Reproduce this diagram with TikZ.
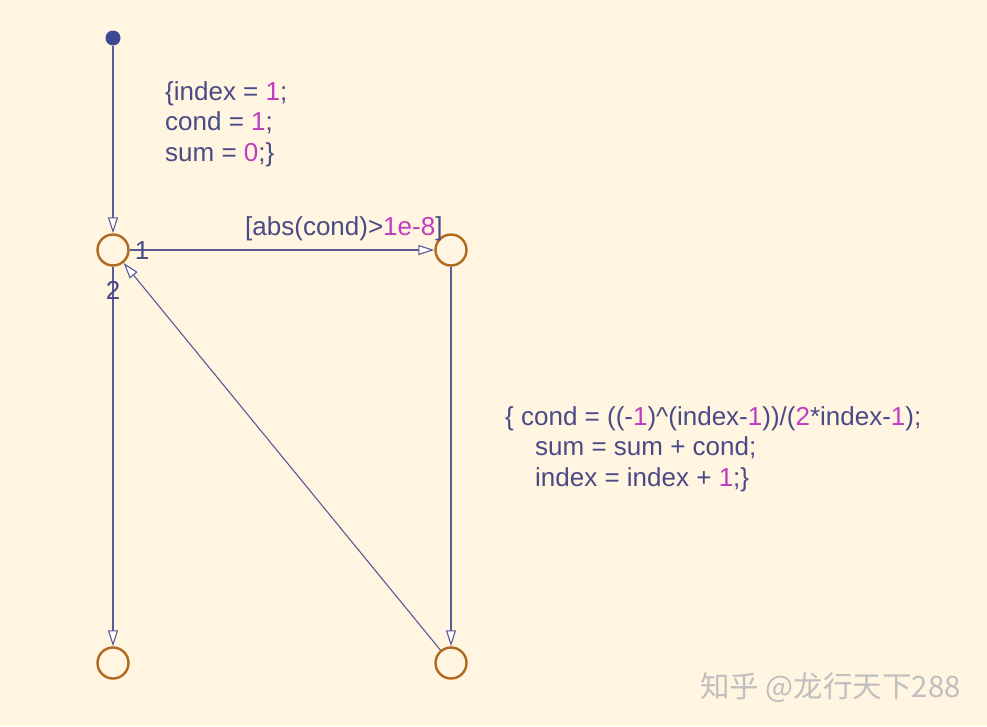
\documentclass[tikz,border=0pt]{standalone}
\usepackage{fontspec}
\setmainfont{Liberation Sans}
\newfontfamily\cjk{Noto Sans CJK SC}
\usepackage{xcolor}
\usetikzlibrary{arrows.meta}
\definecolor{bgcol}{HTML}{FFF5E1}
\definecolor{linecol}{HTML}{5A5A96}
\definecolor{txtcol}{HTML}{4A4A86}
\definecolor{numcol}{HTML}{C03CC0}
\definecolor{juncol}{HTML}{B0691E}
\definecolor{dotcol}{HTML}{3E4894}
\newcommand{\nm}[1]{\textcolor{numcol}{#1}}
\tikzset{
  junction/.style={circle,draw=juncol,line width=2.4pt,minimum size=31pt,inner sep=0pt},
  trans/.style={draw=linecol,line width=1.1pt,-{Triangle[length=16pt,width=10pt,fill=white,line width=1.1pt]}},
  lbl/.style={text=txtcol,font=\fontsize{26}{30.5}\selectfont,inner sep=0pt}
}
\begin{document}
\begin{tikzpicture}[x=1pt,y=-1pt]
\fill[bgcol] (0,0) rectangle (987,726);
\useasboundingbox (0,0) rectangle (987,726);
\node (0) at (113,38) [circle,fill=dotcol,minimum size=15pt,inner sep=0pt] {};
\node (1) at (113,250) [junction] {};
\node (2) at (451,250) [junction] {};
\node (3) at (113,663) [junction] {};
\node (4) at (451,663) [junction] {};
\draw [trans](0)--(1);
\draw [trans](1)--(2);
\draw [trans](2)--(4);
\draw [trans](4)--(1);
\draw [trans](1)--(3);
\node (n1) at (142,251) [lbl] {1};
\node (n2) at (113,290) [lbl] {2};
% multi-line nodes: base is the last line
\node (a) at (165,161) [lbl,anchor=base west,align=left] {\{index = \nm{1};\\cond = \nm{1};\\sum = \nm{0};\}};
\node (g) at (245,235) [lbl,anchor=base west] {[abs(cond)>\nm{1e-8}]};
\node (b) at (505,486) [lbl,anchor=base west,align=left] {\{ cond = ((-\nm{1})\^{}(index-\nm{1}))/(\nm{2}*index-\nm{1});\\\hspace*{30pt}sum = sum + cond;\\\hspace*{30pt}index = index + \nm{1};\}};
\node (w) at (700,697) [anchor=base west,inner sep=0pt,text=black!25,font=\cjk\fontsize{29.5}{31}\selectfont] {知乎 @龙行天下288};
\end{tikzpicture}
\end{document}
